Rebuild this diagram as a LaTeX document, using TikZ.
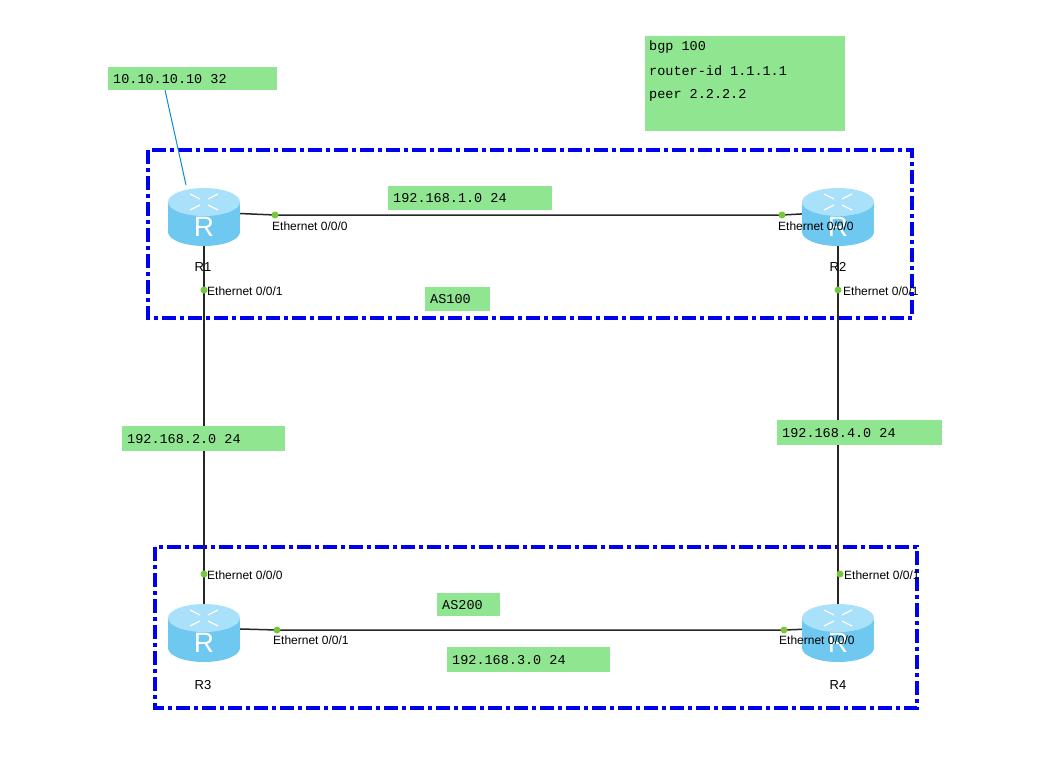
\documentclass[tikz,border=0pt]{standalone}
\usepackage{fontspec}
\setmainfont{Liberation Sans}
\newfontfamily\mono{Liberation Mono}
\definecolor{lg}{RGB}{144,230,144}
\definecolor{dg}{RGB}{120,200,60}
\definecolor{asb}{RGB}{0,0,240}
\definecolor{rside}{RGB}{110,200,240}
\definecolor{rtop}{RGB}{170,225,250}
\newcommand{\router}[1]{%
 \begin{scope}[shift={(#1)}]
  \fill[rside] (-36,-10) rectangle (36,20);
  \fill[rside] (0,20) ellipse[x radius=36,y radius=14];
  \fill[rtop] (0,-10) ellipse[x radius=36,y radius=14];
  \draw[white,line width=1.3pt] (-14,-18)--(-4,-13) (14,-18)--(4,-13) (-14,-2)--(-4,-7) (14,-2)--(4,-7);
  \node[white,font=\fontsize{28}{28}\selectfont] at (0,15) {R};
 \end{scope}}
\newcommand{\lb}[2]{\makebox[#1][l]{#2}}
\begin{document}
\begin{tikzpicture}[x=1pt,y=-1pt,
 lab/.style={fill=lg, font=\mono\fontsize{13.5}{15}\selectfont, inner xsep=5pt, anchor=north west},
 bl/.style={font=\mono\fontsize{13.5}{15}\selectfont, anchor=west, inner sep=0pt},
 eth/.style={font=\fontsize{12}{13}\selectfont, inner sep=1pt},
 rn/.style={font=\fontsize{13}{13}\selectfont},
 dot/.style={circle, fill=dg, inner sep=0pt, minimum size=7pt},
 as/.style={draw=asb, line width=3.5pt, dash pattern=on 14pt off 4pt on 4pt off 4pt},
 link/.style={line width=1.5pt, black!85}]
\useasboundingbox (0,0) rectangle (1061,776);
\coordinate (R1) at (204,212); \coordinate (R2) at (838,212);
\coordinate (R3) at (204,628); \coordinate (R4) at (838,628);
\draw[as] (148,150) rectangle (912,318);
\draw[as] (155,547) rectangle (917,708);
\coordinate (p1a) at (275,215); \coordinate (p2a) at (782,215);
\coordinate (p1b) at (204,290); \coordinate (p3a) at (204,574);
\coordinate (p2b) at (838,290); \coordinate (p4a) at (840,574);
\coordinate (p3b) at (277,630); \coordinate (p4b) at (784,630);
\draw[link] (R1) -- (p1a) -- (p2a) -- (R2);
\draw[link] (R1) -- (p1b) -- (p3a) -- (R3);
\draw[link] (R2) -- (p2b) -- (838,574) -- (R4);
\draw[link] (R3) -- (p3b) -- (p4b) -- (R4);
\coordinate (t1) at (165,90);
\draw[cyan!70!blue, line width=1pt] (186,185) -- (t1);
\router{R1}\router{R2}\router{R3}\router{R4}
\foreach \p in {p1a,p2a,p1b,p3a,p2b,p4a,p3b,p4b}{\node[dot] at (\p) {};}
\node[rn] at (203,267) {R1};
\node[rn] at (838,267) {R2};
\node[rn] at (203,685) {R3};
\node[rn] at (838,685) {R4};
\node[eth,anchor=west] at (271,226) {Ethernet 0/0/0};
\node[eth,anchor=west] at (777,226) {Ethernet 0/0/0};
\node[eth,anchor=west] at (206,291) {Ethernet 0/0/1};
\node[eth,anchor=west] at (842,291) {Ethernet 0/0/1};
\node[eth,anchor=west] at (206,575) {Ethernet 0/0/0};
\node[eth,anchor=west] at (843,575) {Ethernet 0/0/1};
\node[eth,anchor=west] at (272,640) {Ethernet 0/0/1};
\node[eth,anchor=west] at (778,640) {Ethernet 0/0/0};
\node[lab,minimum height=23pt] (l0) at (108,67) {\lb{159pt}{10.10.10.10 32}};
\fill[lg] (645,36) rectangle (845,131);
\node[bl] (bgp1) at (649,47) {bgp 100};
\node[bl] (bgp2) at (649,71) {router-id 1.1.1.1};
\node[bl] (bgp3) at (649,95) {peer 2.2.2.2};
\node[lab,minimum height=24pt] at (388,186) {\lb{154pt}{192.168.1.0 24}};
\node[lab,minimum height=24pt] at (425,287) {\lb{55pt}{AS100}};
\node[lab,minimum height=25pt] at (122,426) {\lb{153pt}{192.168.2.0 24}};
\node[lab,minimum height=25pt] at (777,420) {\lb{155pt}{192.168.4.0 24}};
\node[lab,minimum height=23pt] at (437,593) {\lb{53pt}{AS200}};
\node[lab,minimum height=25pt] at (447,647) {\lb{153pt}{192.168.3.0 24}};
\end{tikzpicture}
\end{document}
